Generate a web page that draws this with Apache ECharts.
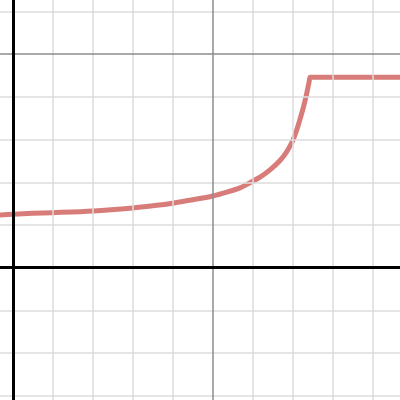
<!DOCTYPE html>
<html>
<head>
<meta charset="utf-8">
<script src="https://cdn.jsdelivr.net/npm/echarts@6/dist/echarts.min.js"></script>
<style>
  html, body { margin: 0; padding: 0; background: #fff; }
  #main { width: 400px; height: 400px; }
</style>
</head>
<body>
<div id="main"></div>
<script>
// curve points
const curveX = [-0.4, 0, 1, 2, 3, 3.5, 4, 4.5, 5, 5.35, 5.68, 5.93, 6.18, 6.43, 6.68, 6.85, 7.0, 7.1, 7.2, 7.29, 7.35, 7.41, 7.44, 8.6, 9.8];
const curveY = [1.23, 1.254, 1.289, 1.33, 1.40, 1.45, 1.51, 1.59, 1.68, 1.77, 1.87, 1.99, 2.12, 2.29, 2.51, 2.72, 2.98, 3.23, 3.54, 3.85, 4.09, 4.36, 4.46, 4.46, 4.46];

// grid lines
const minorX = [1, 2, 3, 4, 6, 7, 8, 9];
const minorY = [-3, -2, -1, 1, 2, 3, 4, 6];
const majorX = [5];
const majorY = [5];

const xMin = -0.32, xMax = 9.68;
const yMin = -3.1, yMax = 6.27;

let chart = echarts.init(document.getElementById('main'));

function lines(xs, ys, style) {
    return xs.map(v => ({ xAxis: v, lineStyle: style }))
        .concat(ys.map(v => ({ yAxis: v, lineStyle: style })));
}

function gridSeries(data, z) {
    return {
        type: 'line',
        data: [],
        z: z,
        silent: true,
        markLine: {
            silent: true,
            animation: false,
            symbol: ['none', 'none'],
            label: { show: false },
            data: data
        }
    };
}

const option = {
    animation: false,
    grid: { left: 0, right: 0, top: 0, bottom: 0 },
    xAxis: {
        type: 'value', min: xMin, max: xMax,
        axisLine: { show: false }, axisTick: { show: false },
        axisLabel: { show: false }, splitLine: { show: false }
    },
    yAxis: {
        type: 'value', min: yMin, max: yMax,
        axisLine: { show: false }, axisTick: { show: false },
        axisLabel: { show: false }, splitLine: { show: false }
    },
    series: [
        gridSeries(lines(minorX, minorY, { color: '#dcdcdc', width: 1.5, type: 'solid' }), 1),
        gridSeries(lines(majorX, majorY, { color: '#8c8c8c', width: 1.5, type: 'solid' }), 2),
        gridSeries(lines([0], [0], { color: '#000', width: 3, type: 'solid' }), 3),
        {
            type: 'line',
            z: 4,
            data: curveX.map((x, i) => [x, curveY[i]]),
            showSymbol: false,
            smooth: 0.3,
            lineStyle: { color: '#c74440', width: 5, opacity: 0.7, join: 'miter' }
        }
    ]
};
chart.setOption(option);
</script>
</body>
</html>
